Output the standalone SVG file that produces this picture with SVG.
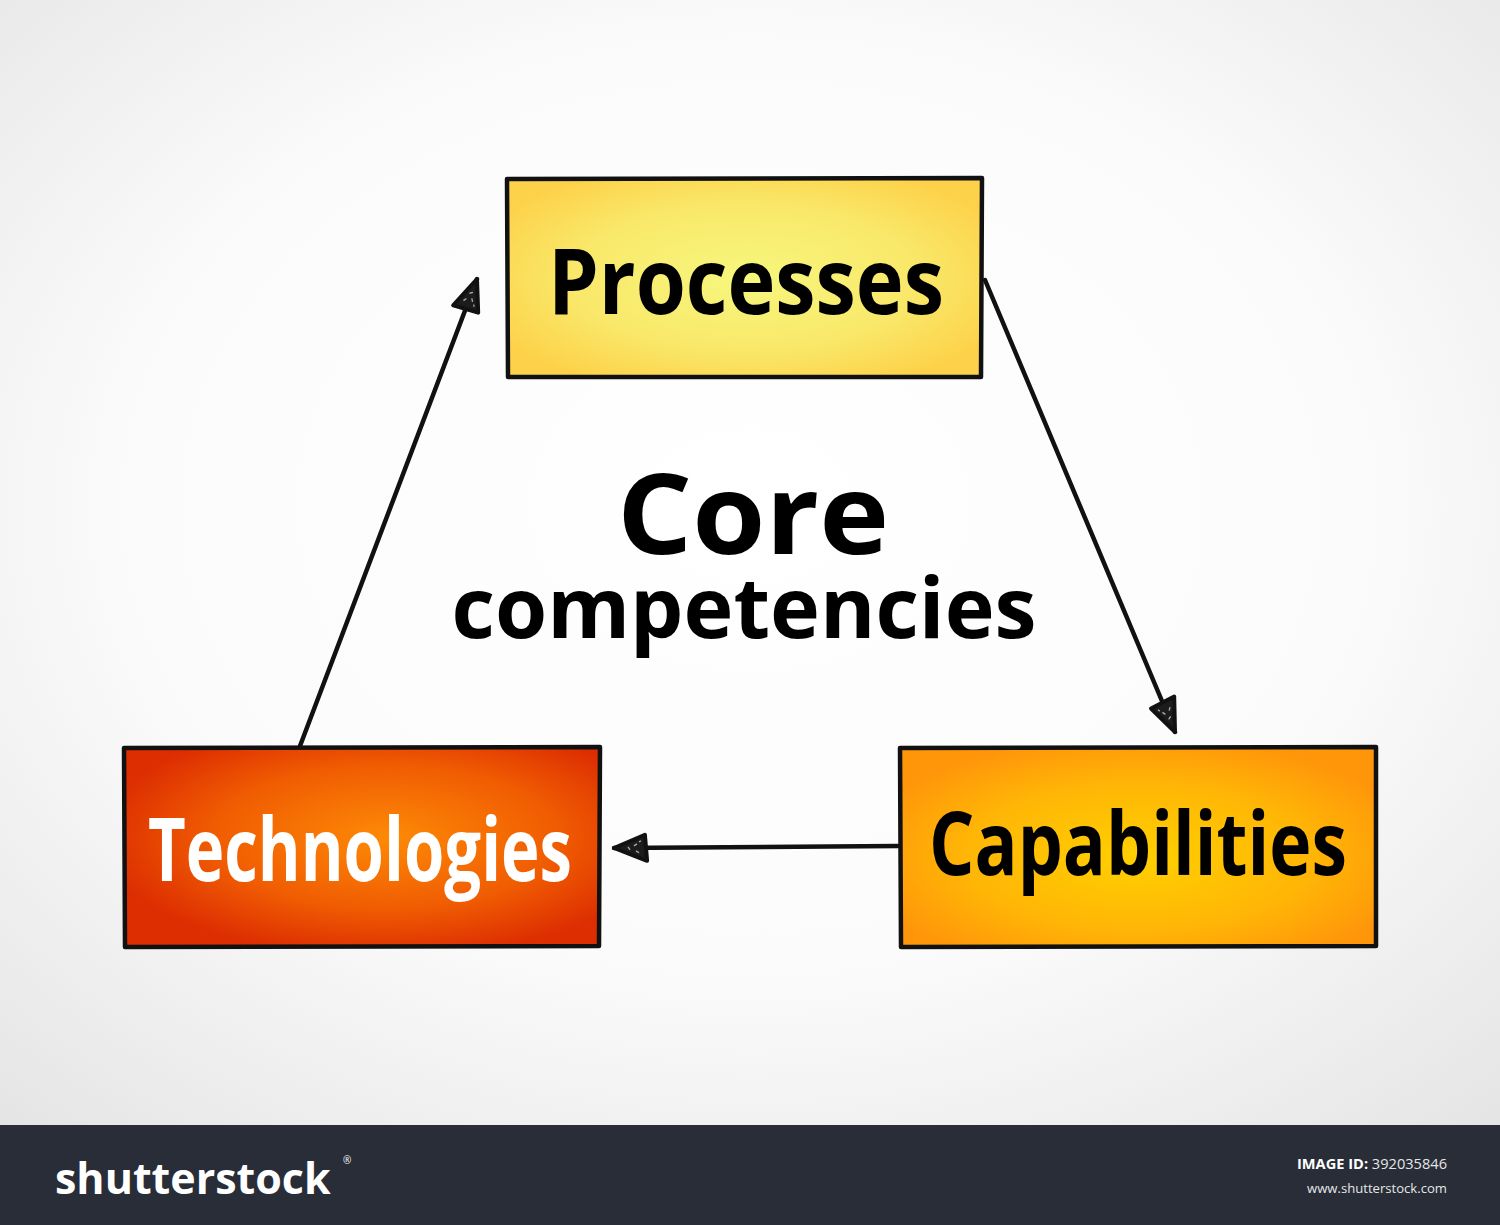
<svg xmlns="http://www.w3.org/2000/svg" width="1500" height="1225" viewBox="0 0 1500 1225">
  <style>
    .box { stroke: #111; stroke-width: 4.5; stroke-linejoin: round; }
    .label { font-family: "Open Sans", "Liberation Sans", sans-serif; font-weight: bold; text-anchor: middle; }
    .conn { stroke: #111; stroke-width: 4.5; fill: none; stroke-linecap: round; }
    .foot { font-family: "Open Sans", "Liberation Sans", sans-serif; fill: #e6e6e6; text-anchor: end; }
  </style>
  <defs>
    <radialGradient id="bg" cx="50%" cy="45%" r="75%">
      <stop offset="0" stop-color="#ffffff"/>
      <stop offset="0.55" stop-color="#fbfbfb"/>
      <stop offset="1" stop-color="#e4e4e4"/>
    </radialGradient>
    <radialGradient id="gYellow" cx="50%" cy="50%" r="60%">
      <stop offset="0" stop-color="#f6f77e"/>
      <stop offset="0.6" stop-color="#f9e86a"/>
      <stop offset="1" stop-color="#fdd24a"/>
    </radialGradient>
    <radialGradient id="gOrange" cx="50%" cy="55%" r="60%">
      <stop offset="0" stop-color="#ffd000"/>
      <stop offset="0.6" stop-color="#ffb606"/>
      <stop offset="1" stop-color="#ff960a"/>
    </radialGradient>
    <radialGradient id="gRed" cx="55%" cy="45%" r="60%">
      <stop offset="0" stop-color="#fd8a06"/>
      <stop offset="0.6" stop-color="#f05c02"/>
      <stop offset="1" stop-color="#dd2e02"/>
    </radialGradient>
    <marker id="arrow" viewBox="0 0 40 34" refX="37" refY="17" markerWidth="40" markerHeight="34" markerUnits="userSpaceOnUse" orient="auto">
      <path d="M37,17 L4,4 L6,30 Z" fill="#1c1c1c" stroke="#111" stroke-width="4" stroke-linejoin="round"/>
      <path d="M12,12 l3,2 M14,21 l3,-2 M21,15 l2,3 M10,24 l2,-1" stroke="#aaa" stroke-width="1.3"/>
    </marker>
  </defs>

  <rect x="0" y="0" width="1500" height="1125" fill="url(#bg)"/>

  <g id="connectors">
    <line class="conn" x1="300" y1="746" x2="477" y2="279" marker-end="url(#arrow)"/>
    <line class="conn" x1="985" y1="280" x2="1175" y2="732" marker-end="url(#arrow)"/>
    <line class="conn" x1="898" y1="846" x2="614" y2="848" marker-end="url(#arrow)"/>
  </g>

  <g id="node-processes">
    <path class="box" fill="url(#gYellow)" d="M507,179 L982,178 L981,377 L508,377 Z"/>
    <text class="label" x="746" y="314" font-size="92" fill="#000" textLength="396" lengthAdjust="spacingAndGlyphs">Processes</text>
  </g>

  <g id="node-capabilities">
    <path class="box" fill="url(#gOrange)" d="M900,748 L1376,747 L1376,946 L901,947 Z"/>
    <text class="label" x="1138" y="875" font-size="88" fill="#000" textLength="418" lengthAdjust="spacingAndGlyphs">Capabilities</text>
  </g>

  <g id="node-technologies">
    <path class="box" fill="url(#gRed)" d="M124,748 L600,747 L599,946 L125,947 Z"/>
    <text class="label" x="360" y="881" font-size="88" fill="#fff" textLength="424" lengthAdjust="spacingAndGlyphs">Technologies</text>
  </g>

  <g id="title">
    <text class="label" fill="#000"><tspan x="753" y="554" font-size="112" textLength="272" lengthAdjust="spacingAndGlyphs">Core</tspan><tspan x="744" y="638" font-size="84" textLength="585" lengthAdjust="spacingAndGlyphs">competencies</tspan></text>
  </g>

  <g id="footer">
    <rect x="0" y="1125" width="1500" height="100" fill="#282d37"/>
    <text x="55" y="1194" font-family="'Open Sans', 'Liberation Sans', sans-serif" font-weight="bold" font-size="43" fill="#fff">shutterstock</text>
    <text x="343" y="1164" font-family="'Open Sans', 'Liberation Sans', sans-serif" font-size="10" fill="#fff">®</text>
    <text class="foot" x="1447" y="1169" font-size="15" textLength="150" lengthAdjust="spacingAndGlyphs"><tspan font-weight="bold" fill="#fff">IMAGE ID:</tspan> 392035846</text>
    <text class="foot" x="1447" y="1193" font-size="13" textLength="140" lengthAdjust="spacingAndGlyphs">www.shutterstock.com</text>
  </g>
</svg>
